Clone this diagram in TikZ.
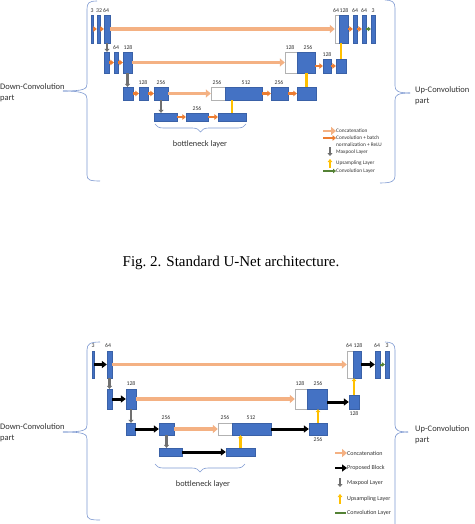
\documentclass[tikz,border=0pt]{standalone}
\usepackage{fontspec}
\setmainfont{Carlito}
\newfontfamily\capfont{Liberation Serif}
\usetikzlibrary{arrows.meta,fit,decorations.pathreplacing}
\definecolor{ublue}{HTML}{4472C4}
\definecolor{salmon}{HTML}{F4B183}
\definecolor{corange}{HTML}{ED7D31}
\definecolor{uyellow}{HTML}{FFC000}
\definecolor{ugreen}{HTML}{548235}
\definecolor{poolgray}{HTML}{707070}
\definecolor{brcblue}{HTML}{7F9AD2}
\definecolor{txt}{HTML}{333333}
\newcommand\bx[6][blk]{\node[#1,fit={(#3,#4)(#5,#6)}] (#2) {};}
\begin{document}
\begin{tikzpicture}[x=1pt,y=-1pt,
  blk/.style={fill=ublue,draw=ublue!85!black,line width=0.3pt,inner sep=0pt},
  wht/.style={fill=white,draw=gray!60,line width=0.4pt,inner sep=0pt},
  num/.style={font=\fontsize{5.8}{6}\selectfont,text=txt,inner sep=0pt},
  side/.style={font=\fontsize{8.5}{9}\selectfont,text=txt,inner sep=0pt,anchor=west},
  legt/.style={font=\fontsize{5.3}{6}\selectfont,text=txt,inner sep=0pt,anchor=west},
  legb/.style={font=\fontsize{6}{7}\selectfont,text=txt,inner sep=0pt,anchor=west},
  aconv/.style={draw=corange,line width=2.2pt,-{Triangle[width=5.5pt,length=3.5pt]}},
  aconcat/.style={draw=salmon,line width=3.5pt,-{Triangle[width=8pt,length=5pt]}},
  aprop/.style={draw=black,line width=3pt,-{Triangle[width=7pt,length=5pt]}},
  apool/.style={draw=poolgray,line width=2.2pt,-{Triangle[width=5pt,length=3pt]}},
  aup/.style={draw=uyellow,line width=2.4pt},
  aupb/.style={draw=uyellow,line width=2.2pt,-{Triangle[width=4.5pt,length=3pt]}},
  agreen/.style={draw=ugreen,line width=2pt,-{Triangle[width=4.5pt,length=3pt]}},
  brc/.style={draw=brcblue,line width=0.6pt},
  bbrace/.style={draw=brcblue,line width=0.6pt,decorate,decoration={brace,mirror,amplitude=8pt}}
]
\useasboundingbox (0,0) rectangle (474,524);
\fill[white] (0,0) rectangle (474,524);

% ================= TOP DIAGRAM =================
\bx{t3}{91}{15}{93}{43}
\bx{t32}{97}{15}{100}{43}
\bx{t64}{104}{15}{110}{43}
\bx[wht]{tw64}{335}{15}{339}{43}
\bx{tr128}{339}{15}{348}{43}
\bx{tr64}{353}{15}{357}{43}
\bx{tr64b}{362}{15}{366}{43}
\bx{tr3}{371}{15}{375}{43}

\bx{t64b}{104}{52}{109}{73}
\bx{t64c}{114}{52}{118}{73}
\bx{t128}{123}{52}{132}{73}
\bx[wht]{tw128}{285}{52}{297}{73}
\bx{tr256}{297}{52}{315}{73}
\bx{tu128}{323}{59}{331}{73}
\bx{tu128b}{336}{59}{346}{73}

\bx{t128b}{123}{87}{133}{100}
\bx{t128c}{139}{87}{148}{100}
\bx{t256}{154}{87}{168}{100}
\bx[wht]{tw256}{211}{87}{225}{100}
\bx{t512}{225}{87}{262}{100}
\bx{tu256}{271}{87}{288}{100}
\bx{tu256b}{297}{87}{316}{100}

\bx{tb1}{154}{113}{177}{121}
\bx{tb2}{186}{113}{208}{121}
\bx{tb3}{218}{113}{246}{121}

\draw[aconv] (t3) -- (t32);
\draw[aconv] (t32) -- (t64);
\draw[aconcat] (t64) -- (tw64);
\draw[aconv] (tr128) -- (tr64);
\draw[aconv] (tr64) -- (tr64b);
\draw[agreen] (tr64b) -- (tr3);
\draw[apool] (t64.south) -- (t64.south |- t64b.north);
\draw[aconv] (t64b) -- (t64c);
\draw[aconv] (t64c) -- (t128);
\draw[aconcat] (t128) -- (tw128);
\draw[aconv] (tr256.east |- tu128) -- (tu128);
\draw[aconv] (tu128) -- (tu128b);
\draw[aup] (tu128b.north) -- (tu128b.north |- tr128.south);
\draw[apool] (t128.south) -- (t128.south |- t128b.north);
\draw[aconv] (t128b) -- (t128c);
\draw[aconv] (t128c) -- (t256);
\draw[aconcat] (t256) -- (tw256);
\draw[aconv] (t512) -- (tu256);
\draw[aconv] (tu256) -- (tu256b);
\draw[aup] (tu256b.north) -- (tu256b.north |- tr256.south);
\draw[apool] (t256.south) -- (t256.south |- tb1.north);
\draw[aconv] (tb1) -- (tb2);
\draw[aconv] (tb2) -- (tb3);
\draw[aup] (tb3.north) -- (tb3.north |- t512.south);

\node[num] (n1) at (92,11) {3};
\node[num] (n2) at (99,11) {32};
\node[num] (n3) at (106,11) {64};
\node[num] (n4) at (116,48) {64};
\node[num] (n5) at (128,48) {128};
\node[num] (n6) at (143,83) {128};
\node[num] (n7) at (161,83) {256};
\node[num] (n8) at (197,109) {256};
\node[num] (n9) at (217,83) {256};
\node[num] (n10) at (246,83) {512};
\node[num] (n11) at (279,83) {256};
\node[num] (n12) at (336,11) {64};
\node[num] (n13) at (344,11) {128};
\node[num] (n14) at (355,11) {64};
\node[num] (n15) at (364,11) {64};
\node[num] (n16) at (373,11) {3};
\node[num] (n17) at (290,48) {128};
\node[num] (n18) at (308,48) {256};
\node[num] (n19) at (327,55) {128};

\coordinate (tbl) at (155,124);
\coordinate (tbr) at (246,124);
\draw[bbrace] (tbl) -- (tbr);
\node[font=\fontsize{8.3}{9}\selectfont,text=txt] (tbn) at (200,144) {bottleneck layer};

% side braces top
\draw[brc] (97,1) .. controls (89,1) and (87,3) .. (87,9) -- (87,84) .. controls (87,89) and (84,91) .. (63,91);
\draw[brc] (63,91) .. controls (84,91) and (87,94) .. (87,99) -- (87,175) .. controls (87,180) and (90,181) .. (100,181);
\draw[brc] (385,0) .. controls (392,0) and (395,2) .. (395,8) -- (395,86) .. controls (395,91) and (398,93) .. (410,93);
\draw[brc] (410,93) .. controls (398,93) and (395,95) .. (395,100) -- (395,176) .. controls (395,181) and (392,183) .. (380,183);
\node[side] (dt1) at (0,87) {Down-Convolution};
\node[side] (dt2) at (0,98) {part};
\node[side] (ut1) at (415,90) {Up-Convolution};
\node[side] (ut2) at (415,101) {part};

% legend top
\node[legt] (lt1) at (336,131) {Concatenation};
\node[legt] (lt2) at (336,138) {Convolution + batch};
\node[legt] (lt2b) at (336,145) {normalization + ReLU};
\node[legt] (lt3) at (336,152) {Maxpool Layer};
\node[legt] (lt4) at (336,163) {Upsampling Layer};
\node[legt] (lt5) at (336,171) {Convolution Layer};
\coordinate (lc1) at (323,131);
\coordinate (lc2) at (323,138);
\coordinate (lc3a) at (330,147);
\coordinate (lc3b) at (330,156);
\coordinate (lc4a) at (330,168);
\coordinate (lc4b) at (330,159);
\coordinate (lc5) at (323,171);
\draw[aconcat,line width=2.4pt] (lc1) -- (lt1.west);
\draw[aconv] (lc2) -- (lt2.west);
\draw[apool,line width=1.8pt] (lc3a) -- (lc3b);
\draw[aupb,line width=1.4pt] (lc4a) -- (lc4b);
\draw[agreen] (lc5) -- (lt5.west);

% caption
\node[font=\capfont\fontsize{15}{18}\selectfont,text=black] (cap) at (231,263) {Fig.~2. Standard U-Net architecture.};

% ================= BOTTOM DIAGRAM =================
\bx{b3}{92}{351}{94}{378}
\bx{b64}{107}{351}{112}{378}
\bx[wht]{bw64}{347}{351}{353}{378}
\bx{br128}{353}{351}{361}{378}
\bx{br64}{375}{351}{380}{378}
\bx{br3}{385}{351}{389}{378}

\bx{b64b}{107}{389}{112}{409}
\bx{b128}{126}{389}{136}{409}
\bx[wht]{bw128}{295}{389}{307}{409}
\bx{br256}{307}{389}{327}{409}
\bx{bu128}{349}{395}{359}{409}

\bx{b128b}{126}{423}{135}{435}
\bx{b256}{159}{423}{174}{435}
\bx[wht]{bw256}{218}{423}{232}{435}
\bx{b512}{232}{423}{271}{435}
\bx{bu256}{309}{423}{327}{435}

\bx{bb1}{159}{448}{182}{456}
\bx{bb2}{226}{448}{255}{456}

\draw[aprop] (b3) -- (b64);
\draw[aconcat] (b64) -- (bw64);
\draw[aprop] (br128) -- (br64);
\draw[agreen] (br64) -- (br3);
\draw[apool] (b64.south) -- (b64.south |- b64b.north);
\draw[aprop] (b64b) -- (b128);
\draw[aconcat] (b128) -- (bw128);
\draw[aprop] (br256.east |- bu128) -- (bu128);
\draw[aupb] (bu128.north) -- (bu128.north |- br128.south);
\draw[apool] (b128.south) -- (b128.south |- b128b.north);
\draw[aprop] (b128b) -- (b256);
\draw[aconcat] (b256) -- (bw256);
\draw[aprop] (b512) -- (bu256);
\draw[aupb] (bu256.north) -- (bu256.north |- br256.south);
\draw[apool] (b256.south) -- (b256.south |- bb1.north);
\draw[aprop] (bb1) -- (bb2);
\draw[aupb] (bb2.north) -- (bb2.north |- b512.south);

\node[num] (m1) at (93,346) {3};
\node[num] (m2) at (108,346) {64};
\node[num] (m3) at (131,384) {128};
\node[num] (m4) at (166,418) {256};
\node[num] (m5) at (225,418) {256};
\node[num] (m6) at (251,418) {512};
\node[num] (m7) at (349,346) {64};
\node[num] (m8) at (358,346) {128};
\node[num] (m9) at (377,346) {64};
\node[num] (m10) at (387,346) {3};
\node[num] (m11) at (300,384) {128};
\node[num] (m12) at (318,384) {256};
\node[num] (m13) at (354,414) {128};
\node[num] (m14) at (318,440) {256};

\coordinate (bbl) at (155,464);
\coordinate (bbr) at (245,464);
\draw[bbrace] (bbl) -- (bbr);
\node[font=\fontsize{8.3}{9}\selectfont,text=txt] (bbn) at (203,484) {bottleneck layer};

% side braces bottom
\draw[brc] (100,342) .. controls (90,342) and (87,344) .. (87,350) -- (87,425) .. controls (87,430) and (84,432) .. (63,432);
\draw[brc] (63,432) .. controls (84,432) and (87,434) .. (87,439) -- (87,514) .. controls (87,519) and (90,520) .. (100,520);
\draw[brc] (385,342) .. controls (392,342) and (395,344) .. (395,350) -- (395,425) .. controls (395,430) and (398,432) .. (408,432);
\draw[brc] (408,432) .. controls (398,432) and (395,434) .. (395,439) -- (395,524);
\node[side] (db1) at (0,427) {Down-Convolution};
\node[side] (db2) at (0,438) {part};
\node[side] (ub1) at (415,429) {Up-Convolution};
\node[side] (ub2) at (415,440) {part};

% legend bottom
\node[legb] (lb1) at (347,453) {Concatenation};
\node[legb] (lb2) at (347,468) {Proposed Block};
\node[legb] (lb3) at (347,483) {Maxpool Layer};
\node[legb] (lb4) at (347,499) {Upsampling Layer};
\node[legb] (lb5) at (347,513) {Convolution Layer};
\coordinate (ld1) at (335,453);
\coordinate (ld2) at (335,468);
\coordinate (ld3a) at (340,478);
\coordinate (ld3b) at (340,487);
\coordinate (ld4a) at (340,504);
\coordinate (ld4b) at (340,494);
\coordinate (ld5a) at (335,513);
\coordinate (ld5b) at (346,513);
\draw[aconcat,line width=2.4pt] (ld1) -- (lb1.west);
\draw[aprop,line width=2.4pt] (ld2) -- (lb2.west);
\draw[apool,line width=1.8pt] (ld3a) -- (ld3b);
\draw[aupb,line width=1.4pt] (ld4a) -- (ld4b);
\draw[draw=ugreen,line width=2pt] (ld5a) -- (ld5b);
\end{tikzpicture}
\end{document}
